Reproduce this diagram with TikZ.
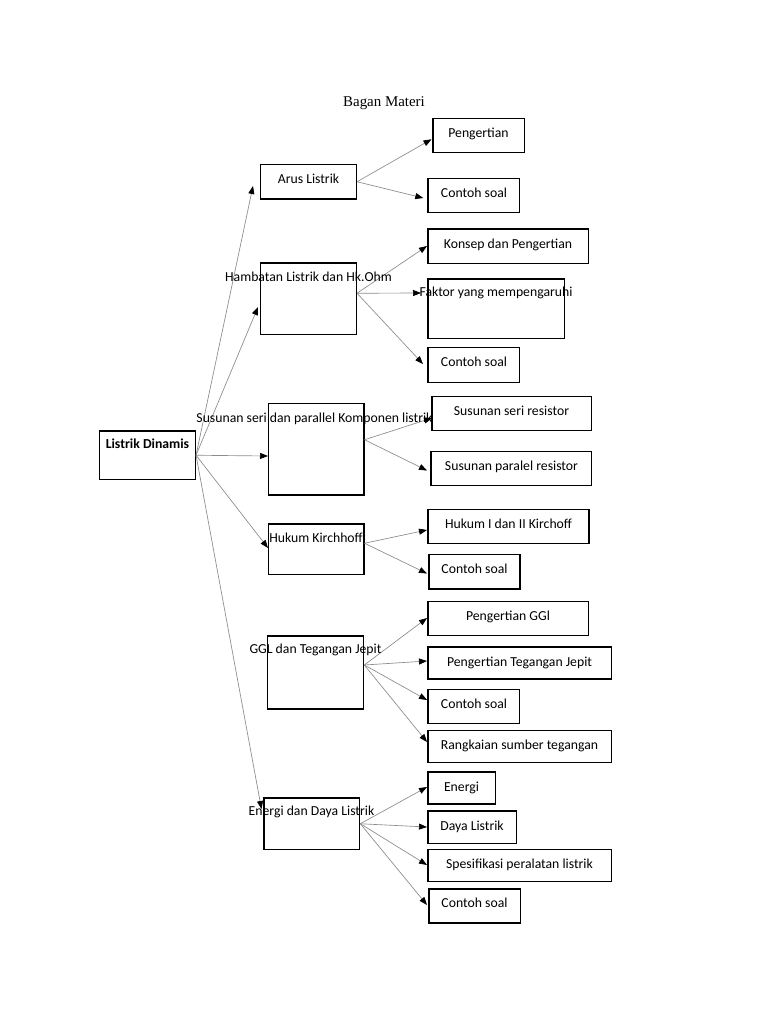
\documentclass[tikz,border=0pt]{standalone}
\usepackage{fontspec}
\setmainfont{Carlito}
\newfontfamily\titlefont{Liberation Serif}
\usetikzlibrary{arrows.meta,fit,calc}
\newcommand\bx[5]{\node[box,fit={(#2,#3) (#4,#5)}] (#1) {};}
\begin{document}
\begin{tikzpicture}[x=0.75pt,y=-0.75pt,
 box/.style={draw=black,line width=0.8pt,inner sep=0pt},
 txt/.style={anchor=base,inner sep=0pt,font=\fontsize{10.3pt}{12pt}\selectfont},
 conn/.style={draw=black!45,line width=0.5pt,-{Triangle[length=6pt,width=4.5pt,color=black]}}]
\fill[white] (0,0) rectangle (768,1024);
\useasboundingbox (0,0) rectangle (768,1024);

% title
\node[txt,font=\titlefont\fontsize{11.2pt}{13pt}\selectfont] (title) at (384,107) {Bagan Materi};

% root
\bx{ld}{99.5}{431}{195.5}{479.5}
\node[txt,font=\bfseries\fontsize{10.3pt}{12pt}\selectfont] (ldt) at (147.5,448.5) {Listrik Dinamis};

% middle column
\bx{arus}{260.5}{164.5}{356.5}{199}
\node[txt] (arust) at (308.5,183.5) {Arus Listrik};
\bx{hamb}{260.5}{263}{356.5}{334.5}
\bx{sus}{268.5}{403.5}{364}{495}
\bx{huk}{268.5}{524}{364}{574.5}
\node[txt] (hukt) at (316,542.8) {Hukum Kirchhoff};
\bx{ggl}{267.5}{636}{363.8}{709}
\bx{ene}{264}{798}{359.8}{849.5}

% right column
\bx{r1}{433}{118.5}{524.5}{152.5}
\node[txt] (r1t) at (478.5,137.5) {Pengertian};
\bx{r2}{428}{178.5}{519.5}{212.5}
\node[txt] (r2t) at (474,197.5) {Contoh soal};
\bx{r3}{428}{229}{588.5}{263.5}
\node[txt] (r3t) at (508,248) {Konsep dan Pengertian};
\bx{r4}{428}{279}{564.5}{338.5}
\bx{r5}{428}{347.5}{519.5}{382.5}
\node[txt] (r5t) at (474,366.5) {Contoh soal};
\bx{r6}{432}{396.5}{591.5}{430.5}
\node[txt] (r6t) at (511.5,415) {Susunan seri resistor};
\bx{r7}{431}{451.5}{591.5}{485.5}
\node[txt] (r7t) at (511.5,470) {Susunan paralel resistor};
\bx{r8}{428}{509.5}{589}{543.5}
\node[txt] (r8t) at (508.5,528) {Hukum I dan II Kirchoff};
\bx{r9}{429}{554.5}{520}{589}
\node[txt] (r9t) at (474.5,573.5) {Contoh soal};
\bx{r10}{428}{601.5}{588.5}{635.5}
\node[txt] (r10t) at (508,620.3) {Pengertian GGl};
\bx{r11}{428}{647}{611.5}{679}
\node[txt] (r11t) at (519.5,666) {Pengertian Tegangan Jepit};
\bx{r12}{428}{689.5}{519.5}{723.5}
\node[txt] (r12t) at (474,708.3) {Contoh soal};
\bx{r13}{428}{730.5}{611.5}{762.5}
\node[txt] (r13t) at (519.5,749.3) {Rangkaian sumber tegangan};
\bx{r14}{428}{772}{495.5}{804}
\node[txt] (r14t) at (461.5,791) {Energi};
\bx{r15}{428}{811}{516.5}{843.5}
\node[txt] (r15t) at (472,830) {Daya Listrik};
\bx{r16}{428}{849.5}{611.5}{881.5}
\node[txt] (r16t) at (519.5,868.3) {Spesifikasi peralatan listrik};
\bx{r17}{429}{889}{520.5}{923}
\node[txt] (r17t) at (474.5,907.5) {Contoh soal};

% arrow tips
\coordinate (ta) at (253,186);
\coordinate (th) at (258,307);
\coordinate (ts) at (268,456);
\coordinate (tk) at (268,548);
\coordinate (te) at (261.5,809);
\coordinate (t1) at (431.5,139.3);
\coordinate (t2) at (423.3,198);
\coordinate (t3) at (427,246);
\coordinate (t4) at (421,293);
\coordinate (t5) at (423,364);
\coordinate (t6) at (432,418);
\coordinate (t7) at (427,470.5);
\coordinate (t8) at (427,530);
\coordinate (t9) at (427,573.5);
\coordinate (t10) at (427,618);
\coordinate (t11) at (427,661);
\coordinate (t12) at (427,700);
\coordinate (t13) at (427,742);
\coordinate (t14) at (427,787);
\coordinate (t15) at (427,827);
\coordinate (t16) at (427,865);
\coordinate (t17) at (427,905);

% connectors
\draw[conn] (ld.east) -- (ta);
\draw[conn] (ld.east) -- (th);
\draw[conn] (ld.east) -- (ts);
\draw[conn] (ld.east) -- (tk);
\draw[conn] (ld.east) -- (te);
\draw[conn] (arus.east) -- (t1);
\draw[conn] (arus.east) -- (t2);
\draw[conn] ($(hamb.east)+(0,-5.5)$) -- (t3);
\draw[conn] ($(hamb.east)+(0,-5.5)$) -- (t4);
\draw[conn] ($(hamb.east)+(0,-5.5)$) -- (t5);
\draw[conn] ($(sus.east)+(0,-9.5)$) -- (t6);
\draw[conn] ($(sus.east)+(0,-9.5)$) -- (t7);
\draw[conn] ($(huk.east)+(0,-6)$) -- (t8);
\draw[conn] ($(huk.east)+(0,-6)$) -- (t9);
\draw[conn] ($(ggl.east)+(0,-7.5)$) -- (t10);
\draw[conn] ($(ggl.east)+(0,-7.5)$) -- (t11);
\draw[conn] ($(ggl.east)+(0,-7.5)$) -- (t12);
\draw[conn] ($(ggl.east)+(0,-7.5)$) -- (t13);
\draw[conn] (ene.east) -- (t14);
\draw[conn] (ene.east) -- (t15);
\draw[conn] (ene.east) -- (t16);
\draw[conn] (ene.east) -- (t17);

% overflowing labels (drawn on top)
\node[txt] (hambt) at (308.5,281.7) {Hambatan Listrik dan Hk.Ohm};
\node[txt] (r4t) at (496,296) {Faktor yang mempengaruhi};
\node[txt] (sust) at (314.5,422.7) {Susunan seri dan parallel Komponen listrik};
\node[txt] (gglt) at (315.5,653.3) {GGL dan Tegangan Jepit};
\node[txt] (enet) at (311.5,815) {Energi dan Daya Listrik};
\end{tikzpicture}
\end{document}
